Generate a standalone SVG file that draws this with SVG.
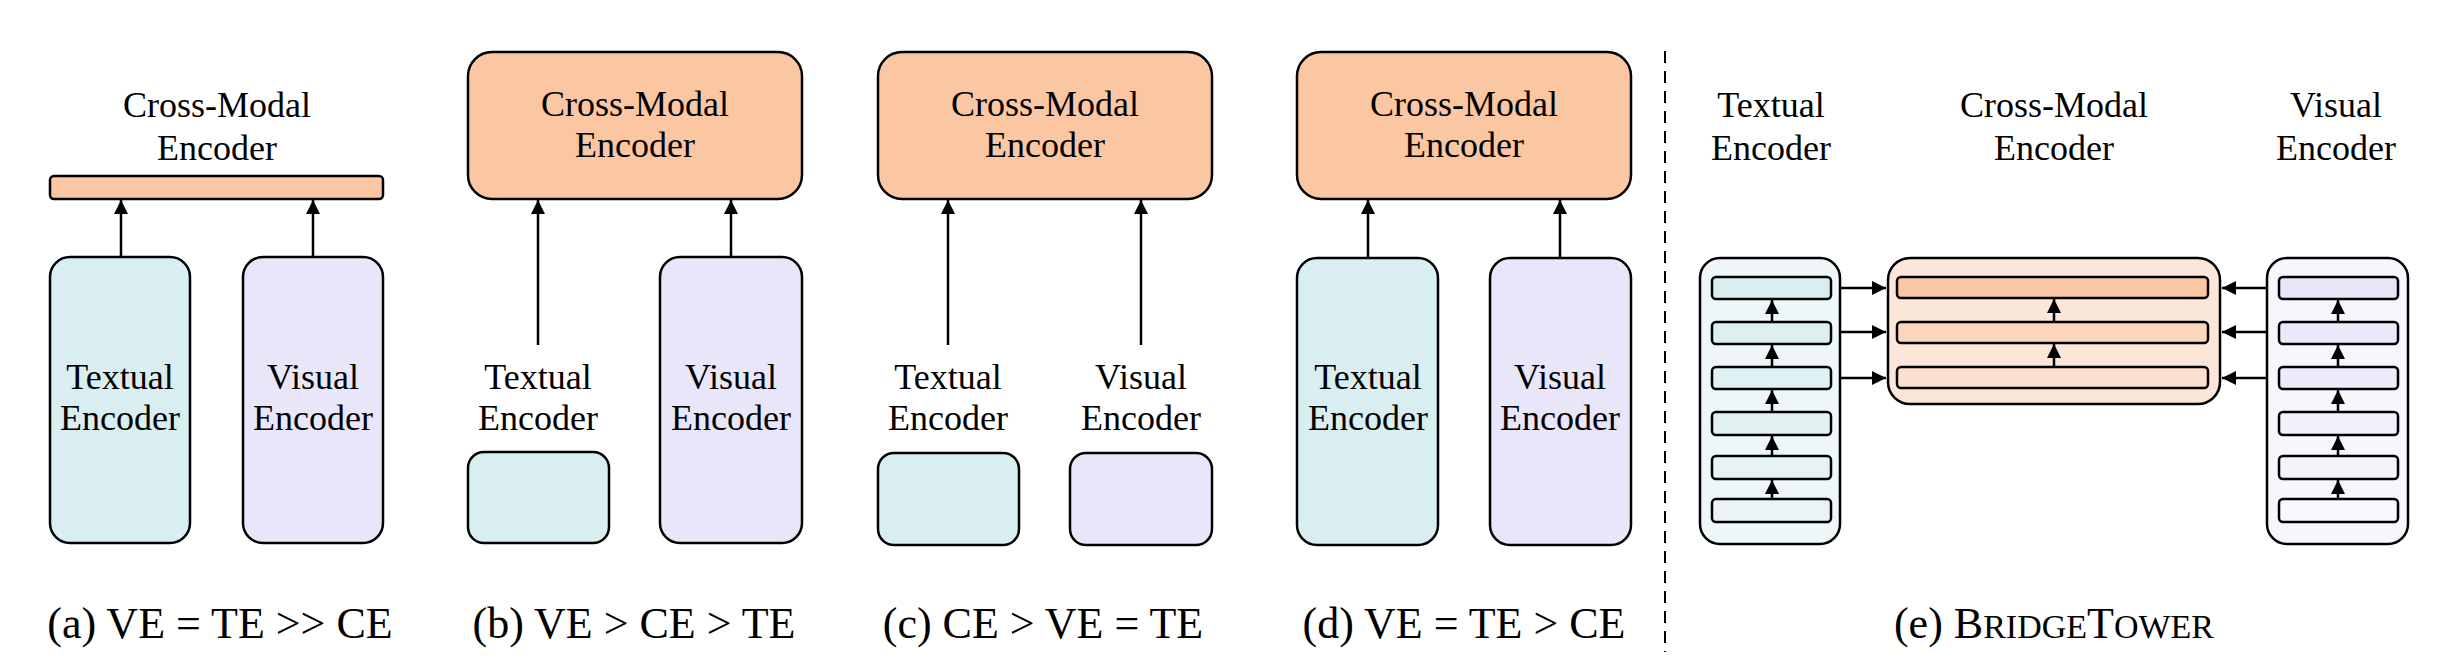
<svg xmlns="http://www.w3.org/2000/svg" width="2442" height="670" viewBox="0 0 2442 670">
<style>
text{font-family:"Liberation Serif","Times New Roman",serif;fill:#000;text-anchor:middle}
.lb{font-size:36px}
.cap{font-size:44px}
.n{stroke:#000;stroke-width:2.5}
.cm{fill:#fbc6a2}.te{fill:#d9eef0}.ve{fill:#e8e6f8}
.c{stroke:#000;stroke-width:2.5;fill:none;marker-end:url(#ah)}
</style>
<defs>
<marker id="ah" markerUnits="userSpaceOnUse" markerWidth="14" markerHeight="16" refX="14" refY="7" orient="auto">
<path d="M0,0 L14,7 L0,14 Z" fill="#000"/>
</marker>
</defs>
<rect width="2442" height="670" fill="#fff"/>

<!-- panel a -->
<g id="a-cm"><rect class="n cm" x="50" y="176" width="333" height="23" rx="4"/><text class="lb" x="217" y="117">Cross-Modal</text><text class="lb" x="217" y="160">Encoder</text></g>
<g id="a-te"><rect class="n te" x="50" y="257" width="140" height="286" rx="20"/><text class="lb" x="120" y="389">Textual</text><text class="lb" x="120" y="430">Encoder</text></g>
<g id="a-ve"><rect class="n ve" x="243" y="257" width="140" height="286" rx="20"/><text class="lb" x="313" y="389">Visual</text><text class="lb" x="313" y="430">Encoder</text></g>
<text class="cap" x="220" y="638">(a) VE = TE &gt;&gt; CE</text>

<!-- panel b -->
<g id="b-cm"><rect class="n cm" x="468" y="52" width="334" height="147" rx="24"/><text class="lb" x="635" y="116">Cross-Modal</text><text class="lb" x="635" y="157">Encoder</text></g>
<g id="b-te"><text class="lb" x="538" y="389">Textual</text><text class="lb" x="538" y="430">Encoder</text><rect class="n te" x="468" y="452" width="141" height="91" rx="16"/></g>
<g id="b-ve"><rect class="n ve" x="660" y="257" width="142" height="286" rx="20"/><text class="lb" x="731" y="389">Visual</text><text class="lb" x="731" y="430">Encoder</text></g>
<text class="cap" x="634" y="638">(b) VE &gt; CE &gt; TE</text>

<!-- panel c -->
<g id="c-cm"><rect class="n cm" x="878" y="52" width="334" height="147" rx="24"/><text class="lb" x="1045" y="116">Cross-Modal</text><text class="lb" x="1045" y="157">Encoder</text></g>
<g id="c-te"><text class="lb" x="948" y="389">Textual</text><text class="lb" x="948" y="430">Encoder</text><rect class="n te" x="878" y="453" width="141" height="92" rx="16"/></g>
<g id="c-ve"><text class="lb" x="1141" y="389">Visual</text><text class="lb" x="1141" y="430">Encoder</text><rect class="n ve" x="1070" y="453" width="142" height="92" rx="16"/></g>
<text class="cap" x="1043" y="638">(c) CE &gt; VE = TE</text>

<!-- panel d -->
<g id="d-cm"><rect class="n cm" x="1297" y="52" width="334" height="147" rx="24"/><text class="lb" x="1464" y="116">Cross-Modal</text><text class="lb" x="1464" y="157">Encoder</text></g>
<g id="d-te"><rect class="n te" x="1297" y="258" width="141" height="287" rx="20"/><text class="lb" x="1368" y="389">Textual</text><text class="lb" x="1368" y="430">Encoder</text></g>
<g id="d-ve"><rect class="n ve" x="1490" y="258" width="141" height="287" rx="20"/><text class="lb" x="1560" y="389">Visual</text><text class="lb" x="1560" y="430">Encoder</text></g>
<text class="cap" x="1464" y="638">(d) VE = TE &gt; CE</text>

<line x1="1665" y1="51" x2="1665" y2="652" stroke="#000" stroke-width="2" stroke-dasharray="12,8"/>

<!-- panel e -->
<g id="e-te">
<text class="lb" x="1771" y="117">Textual</text><text class="lb" x="1771" y="160">Encoder</text>
<rect class="n" fill="#eef6f7" x="1700" y="258" width="140" height="286" rx="20"/>
<rect class="n" fill="#d9eef0" x="1712" y="277" width="119" height="22" rx="4"/>
<rect class="n" fill="#dcf0f1" x="1712" y="322" width="119" height="22" rx="4"/>
<rect class="n" fill="#dff1f2" x="1712" y="367" width="119" height="22" rx="4"/>
<rect class="n" fill="#e2f2f3" x="1712" y="412" width="119" height="23" rx="4"/>
<rect class="n" fill="#e6f3f5" x="1712" y="456" width="119" height="23" rx="4"/>
<rect class="n" fill="#eaf4f6" x="1712" y="499" width="119" height="23" rx="4"/>
</g>
<g id="e-cm">
<text class="lb" x="2054" y="117">Cross-Modal</text><text class="lb" x="2054" y="160">Encoder</text>
<rect class="n" fill="#fbe7da" x="1888" y="258" width="332" height="146" rx="22"/>
<rect class="n" fill="#fbc6a2" x="1897" y="277" width="311" height="21" rx="4"/>
<rect class="n" fill="#fbd6bd" x="1897" y="322" width="311" height="21" rx="4"/>
<rect class="n" fill="#fce0cd" x="1897" y="367" width="311" height="21" rx="4"/>
</g>
<g id="e-ve">
<text class="lb" x="2336" y="117">Visual</text><text class="lb" x="2336" y="160">Encoder</text>
<rect class="n" fill="#f6f6fc" x="2267" y="258" width="141" height="286" rx="20"/>
<rect class="n" fill="#e8e6f8" x="2279" y="277" width="119" height="22" rx="4"/>
<rect class="n" fill="#eae8f9" x="2279" y="322" width="119" height="22" rx="4"/>
<rect class="n" fill="#eeecfa" x="2279" y="367" width="119" height="22" rx="4"/>
<rect class="n" fill="#f1f0fb" x="2279" y="412" width="119" height="23" rx="4"/>
<rect class="n" fill="#f4f3fc" x="2279" y="456" width="119" height="23" rx="4"/>
<rect class="n" fill="#f8f8fd" x="2279" y="499" width="119" height="23" rx="4"/>
</g>
<text class="cap" x="2054" y="638">(e) B<tspan font-size="34">RIDGE</tspan>T<tspan font-size="34">OWER</tspan></text>

<g id="connectors">
<line class="c" x1="121" y1="257" x2="121" y2="200"/>
<line class="c" x1="313" y1="257" x2="313" y2="200"/>
<line class="c" x1="538" y1="345" x2="538" y2="200"/>
<line class="c" x1="731" y1="257" x2="731" y2="200"/>
<line class="c" x1="948" y1="345" x2="948" y2="200"/>
<line class="c" x1="1141" y1="345" x2="1141" y2="200"/>
<line class="c" x1="1368" y1="258" x2="1368" y2="200"/>
<line class="c" x1="1560" y1="258" x2="1560" y2="200"/>
<line class="c" x1="1772" y1="322" x2="1772" y2="300"/>
<line class="c" x1="1772" y1="367" x2="1772" y2="345"/>
<line class="c" x1="1772" y1="412" x2="1772" y2="390"/>
<line class="c" x1="1772" y1="456" x2="1772" y2="436"/>
<line class="c" x1="1772" y1="499" x2="1772" y2="480"/>
<line class="c" x1="2338" y1="322" x2="2338" y2="300"/>
<line class="c" x1="2338" y1="367" x2="2338" y2="345"/>
<line class="c" x1="2338" y1="412" x2="2338" y2="390"/>
<line class="c" x1="2338" y1="456" x2="2338" y2="436"/>
<line class="c" x1="2338" y1="499" x2="2338" y2="480"/>
<line class="c" x1="2054" y1="322" x2="2054" y2="299"/>
<line class="c" x1="2054" y1="367" x2="2054" y2="344"/>
<line class="c" x1="1840" y1="288" x2="1886" y2="288"/>
<line class="c" x1="1840" y1="332" x2="1886" y2="332"/>
<line class="c" x1="1840" y1="378" x2="1886" y2="378"/>
<line class="c" x1="2267" y1="288" x2="2222" y2="288"/>
<line class="c" x1="2267" y1="332" x2="2222" y2="332"/>
<line class="c" x1="2267" y1="378" x2="2222" y2="378"/>
</g>
</svg>
